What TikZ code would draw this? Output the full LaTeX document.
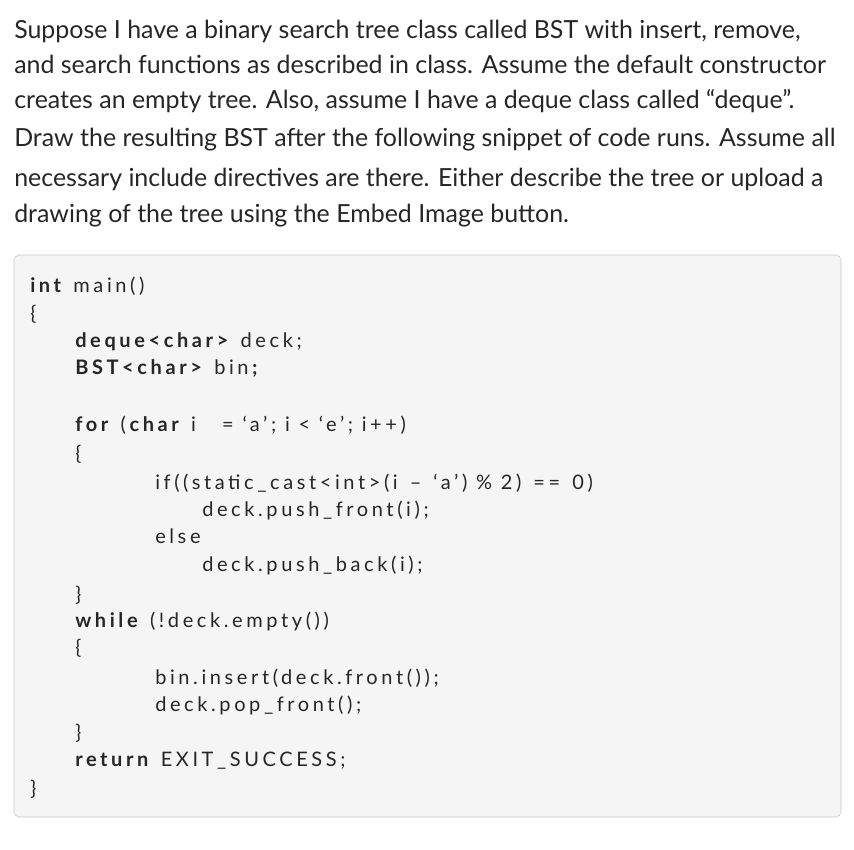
\documentclass[tikz,border=0pt]{standalone}
\usepackage{fontspec}
\setmainfont{Lato}
\newfontfamily\codefont[LetterSpace=18]{Lato}
\begin{document}
\begin{tikzpicture}[x=0.75pt,y=-0.75pt,
  para/.style={anchor=base west,inner sep=0pt,font=\fontsize{18.7pt}{22pt}\selectfont,text=black!85},
  code/.style={anchor=base west,inner sep=0pt,font=\codefont\fontsize{15pt}{17pt}\selectfont,text=black!85}]
\useasboundingbox (0,0) rectangle (854,850);
\node[para] (p1) at (14,38) {Suppose I have a binary search tree class called BST with insert, remove,};
\node[para] (p2) at (14,73) {and search functions as described in class. Assume the default constructor};
\node[para] (p3) at (14,108) {creates an empty tree. Also, assume I have a deque class called “deque”.};
\node[para] (p4) at (14,146) {Draw the resulting BST after the following snippet of code runs. Assume all};
\node[para] (p5) at (14,186) {necessary include directives are there. Either describe the tree or upload a};
\node[para] (p6) at (14,222) {drawing of the tree using the Embed Image button.};
\draw[fill=black!4,draw=black!22,rounded corners=4] (14,255) rectangle (841,817);
\node[code] (c1) at (30,292) {\textbf{int} main()};
\node[code] (c2) at (30,320) {\{};
\node[code] (c3) at (75,347) {\textbf{deque<char>} deck;};
\node[code] (c4) at (75,374) {\textbf{BST<char>} bin\textbf{;}};
\node[code] (c5) at (75,431) {\textbf{for} (\textbf{char} i \ \ = ‘a’; i < ‘e’; i++)};
\node[code] (c6) at (75,460) {\{};
\node[code] (c7) at (155,489) {if((static\_cast<int>(i \,–\, ‘a’) \% 2) \,==\, 0)};
\node[code] (c8) at (202,516) {deck.push\_front(i);};
\node[code] (c9) at (155,543) {else};
\node[code] (c10) at (202,571) {deck.push\_back(i);};
\node[code] (c11) at (75,601) {\}};
\node[code] (c12) at (75,627) {\textbf{while} (!deck.empty())};
\node[code] (c13) at (75,654) {\{};
\node[code] (c14) at (155,684) {bin.insert(deck.front());};
\node[code] (c15) at (155,711) {deck.pop\_front();};
\node[code] (c16) at (75,739) {\}};
\node[code] (c17) at (75,766) {\textbf{return} EXIT\_SUCCESS;};
\node[code] (c18) at (30,795) {\}};
\end{tikzpicture}
\end{document}
